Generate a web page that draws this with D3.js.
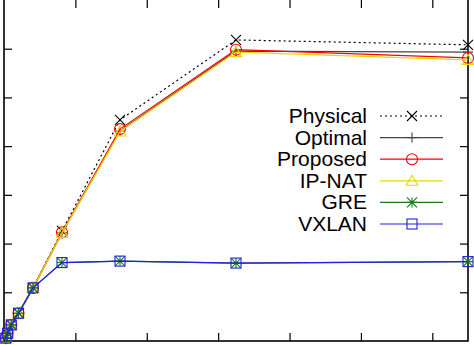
<!DOCTYPE html>
<html>
<head>
<meta charset="utf-8">
<script src="https://cdn.jsdelivr.net/npm/d3@7"></script>
<style>
  html, body { margin: 0; padding: 0; background: #fff; }
  svg { display: block; }
  text { font-family: "Liberation Sans", Arial, Helvetica, sans-serif; }
</style>
</head>
<body>
<script>
// Offered load (x) and measured throughput (y) per forwarding scheme
const xValues  = [0.51, 1.02, 2.03, 4.06, 8.13, 16.25, 32.5, 65, 130];
const physical = [0.06, 0.16, 0.33, 0.57, 1.09, 2.26, 4.54, 6.18, 6.08];
const optimal  = [0.06, 0.16, 0.33, 0.57, 1.09, 2.22, 4.31, 5.95, 5.93];
const proposed = [0.06, 0.16, 0.33, 0.57, 1.09, 2.23, 4.35, 5.98, 5.81];
const ipnat    = [0.06, 0.16, 0.33, 0.57, 1.09, 2.22, 4.30, 5.93, 5.77];
const gre      = [0.06, 0.16, 0.33, 0.57, 1.09, 1.61, 1.64, 1.60, 1.63];
const vxlan    = [0.06, 0.16, 0.33, 0.57, 1.09, 1.61, 1.64, 1.60, 1.63];

const seriesNames = ["Physical", "Optimal", "Proposed", "IP-NAT", "GRE", "VXLAN"];
const xTicks = [20, 40, 60, 80, 100, 120];
const yTicks = [1, 2, 3, 4, 5, 6];

const W = 474, H = 345;
const plotLeft = 4, plotRight = 468, plotTop = 0, plotBottom = 341;

const svg = d3.select("body").append("svg").attr("width", W).attr("height", H);

const x = d3.scaleLinear().domain([0, 130]).range([plotLeft, plotRight]);
const y = d3.scaleLinear().domain([0, 7]).range([plotBottom, plotTop]);

const series = [
  { name: seriesNames[0], values: physical, color: "#000000", dash: "2,3", marker: "x" },
  { name: seriesNames[1], values: optimal,  color: "#444444", dash: null,  marker: "plus" },
  { name: seriesNames[2], values: proposed, color: "#ff0000", dash: null,  marker: "circle" },
  { name: seriesNames[3], values: ipnat,    color: "#e6d800", dash: null,  marker: "triangle" },
  { name: seriesNames[4], values: gre,      color: "#1a7a1a", dash: null,  marker: "star" },
  { name: seriesNames[5], values: vxlan,    color: "#2020e0", dash: null,  marker: "square" }
];

// Frame: axes with inward ticks on all four sides
const tickLen = 8;
const gAxes = svg.append("g");
gAxes.append("g").attr("transform", `translate(0,${plotBottom})`)
  .call(d3.axisTop(x).tickValues(xTicks).tickSize(tickLen).tickFormat(""));
gAxes.append("g").attr("transform", `translate(0,${plotTop})`)
  .call(d3.axisBottom(x).tickValues(xTicks).tickSize(tickLen).tickFormat(""));
gAxes.append("g").attr("transform", `translate(${plotLeft},0)`)
  .call(d3.axisRight(y).tickValues(yTicks).tickSize(tickLen).tickFormat(""));
gAxes.append("g").attr("transform", `translate(${plotRight},0)`)
  .call(d3.axisLeft(y).tickValues(yTicks).tickSize(tickLen).tickFormat(""));
gAxes.selectAll(".domain").remove();
gAxes.selectAll(".tick line").attr("stroke", "#000").attr("stroke-width", 1.2);

svg.append("rect")
  .attr("x", plotLeft).attr("y", plotTop - 2)
  .attr("width", plotRight - plotLeft).attr("height", plotBottom - plotTop + 2)
  .attr("fill", "none").attr("stroke", "#000").attr("stroke-width", 1.6);

// Marker shapes drawn around (0,0)
function drawMarker(g, type, color) {
  const s = 5;
  if (type === "x") {
    g.append("path").attr("d", `M${-s},${-s}L${s},${s}M${-s},${s}L${s},${-s}`)
      .attr("stroke", color).attr("stroke-width", 1.1).attr("fill", "none");
  } else if (type === "plus") {
    g.append("path").attr("d", `M${-s},0L${s},0M0,${-s}L0,${s}`)
      .attr("stroke", color).attr("stroke-width", 1.1).attr("fill", "none");
  } else if (type === "circle") {
    g.append("circle").attr("r", 5.5)
      .attr("stroke", color).attr("stroke-width", 1.1).attr("fill", "none");
  } else if (type === "triangle") {
    g.append("path").attr("d", `M0,${-s - 0.5}L${s + 0.8},${s - 0.5}L${-s - 0.8},${s - 0.5}Z`)
      .attr("stroke", color).attr("stroke-width", 1.1).attr("fill", "none");
  } else if (type === "star") {
    g.append("path").attr("d", `M${-s},${-s}L${s},${s}M${-s},${s}L${s},${-s}M${-s},0L${s},0M0,${-s}L0,${s}`)
      .attr("stroke", color).attr("stroke-width", 1.1).attr("fill", "none");
  } else if (type === "square") {
    g.append("rect").attr("x", -s).attr("y", -s).attr("width", 2 * s).attr("height", 2 * s)
      .attr("stroke", color).attr("stroke-width", 1.1).attr("fill", "none");
  }
}

const line = d3.line().x((d, i) => x(xValues[i])).y(d => y(d));

const plot = svg.append("g");
series.forEach(s => {
  const g = plot.append("g");
  g.append("path").datum(s.values).attr("d", line)
    .attr("fill", "none").attr("stroke", s.color).attr("stroke-width", 1.2)
    .attr("stroke-dasharray", s.dash);
  s.values.forEach((v, i) => {
    const m = g.append("g").attr("transform", `translate(${x(xValues[i])},${y(v)})`);
    drawMarker(m, s.marker, s.color);
  });
});

// Legend: label on the left, line sample with marker on the right
const legend = svg.append("g");
const legTextX = 367, legLineX0 = 380, legLineX1 = 443, legY0 = 116, legStep = 21.6;
series.forEach((s, i) => {
  const cy = legY0 + i * legStep;
  legend.append("text").attr("x", legTextX).attr("y", cy + 7)
    .attr("text-anchor", "end").attr("font-size", 21).attr("fill", "#000").text(s.name);
  legend.append("line").attr("x1", legLineX0).attr("x2", legLineX1)
    .attr("y1", cy).attr("y2", cy)
    .attr("stroke", s.color).attr("stroke-width", 1.2).attr("stroke-dasharray", s.dash);
  const m = legend.append("g").attr("transform", `translate(${(legLineX0 + legLineX1) / 2 + 0.5},${cy})`);
  drawMarker(m, s.marker, s.color);
});
</script>
</body>
</html>
